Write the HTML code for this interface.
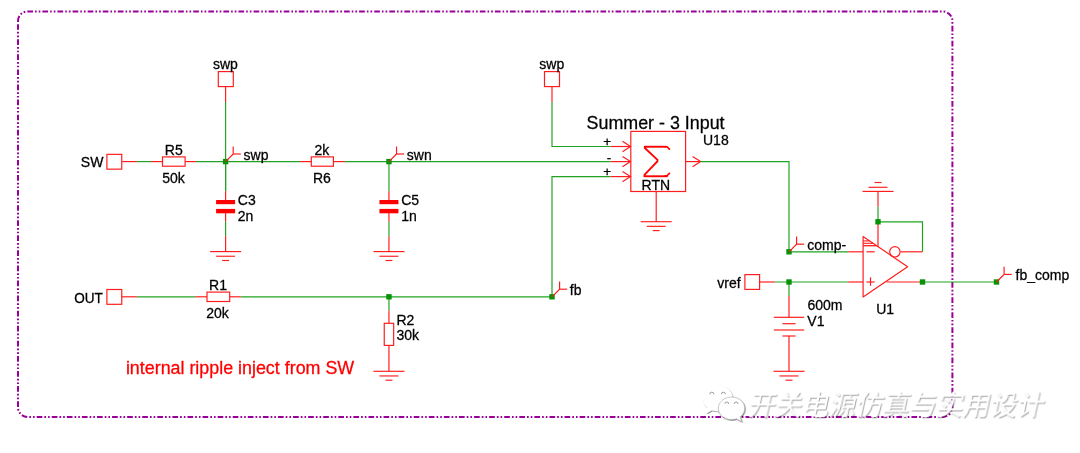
<!DOCTYPE html>
<html lang="zh">
<head>
<meta charset="utf-8">
<title>internal ripple inject from SW</title>
<style>
html,body{margin:0;padding:0;background:#fff;}
body{width:1080px;height:453px;overflow:hidden;position:relative;font-family:"Liberation Sans","Noto Sans CJK SC",sans-serif;}
svg{position:absolute;left:0;top:0;display:block;will-change:transform;}
svg text{font-family:"Liberation Sans","Noto Sans CJK SC",sans-serif;}
svg text.sig{font-family:"Liberation Sans","DejaVu Sans",sans-serif;}
.wm{position:absolute;left:745.1px;top:386.6px;font-size:26.85px;line-height:40px;height:40px;white-space:nowrap;color:#fff;
font-family:"Liberation Sans","Noto Sans CJK SC",sans-serif;font-weight:400;letter-spacing:0px;
transform:skewX(-12deg) scaleY(1.05);transform-origin:0 100%;
text-shadow:1px 1px 1px rgba(0,0,0,.38);}
</style>
</head>
<body>
<svg width="1080" height="453" viewBox="0 0 1080 453">
<path d="M18 21A9.5 9.5 0 0 1 27.5 11.5H942.9A9.5 9.5 0 0 1 952.4 21V407.4A9.5 9.5 0 0 1 942.9 416.9H27.5A9.5 9.5 0 0 1 18 407.4Z" fill="none" stroke="#990099" stroke-width="2" stroke-dasharray="5.7 2.0275 1.6 2.0275 1.7 2.0275" stroke-dashoffset="0.45"/>
<line x1="225.6" y1="102.0" x2="225.6" y2="191.3" stroke="#21a321" stroke-width="1.18"/>
<line x1="225.6" y1="86.6" x2="225.6" y2="102.0" stroke="#ff1c1c" stroke-width="1.18"/>
<rect x="218.3" y="71.6" width="15.0" height="15.0" fill="none" stroke="#ff1c1c" stroke-width="1.18"/>
<text x="225.4" y="69.4" font-size="14.0" fill="#000" stroke="#000" stroke-width="0.28" text-anchor="middle" >swp</text>
<text x="103.4" y="166.8" font-size="14.0" fill="#000" stroke="#000" stroke-width="0.28" text-anchor="end" >SW</text>
<rect x="106.9" y="154.35" width="14.85" height="14.8" fill="none" stroke="#ff1c1c" stroke-width="1.18"/>
<line x1="122.2" y1="161.6" x2="137.1" y2="161.6" stroke="#ff1c1c" stroke-width="1.18"/>
<line x1="137.1" y1="161.6" x2="151" y2="161.6" stroke="#21a321" stroke-width="1.18"/>
<line x1="151" y1="161.6" x2="162.5" y2="161.6" stroke="#ff1c1c" stroke-width="1.18"/>
<rect x="162.5" y="156.9" width="22.6" height="9.3" fill="none" stroke="#ff1c1c" stroke-width="1.18"/>
<line x1="185.1" y1="161.6" x2="196" y2="161.6" stroke="#ff1c1c" stroke-width="1.18"/>
<line x1="196" y1="161.6" x2="300" y2="161.6" stroke="#21a321" stroke-width="1.18"/>
<line x1="300" y1="161.6" x2="311.3" y2="161.6" stroke="#ff1c1c" stroke-width="1.18"/>
<rect x="311.3" y="156.9" width="22.1" height="9.3" fill="none" stroke="#ff1c1c" stroke-width="1.18"/>
<line x1="333.4" y1="161.6" x2="345" y2="161.6" stroke="#ff1c1c" stroke-width="1.18"/>
<line x1="345" y1="161.6" x2="610.7" y2="161.6" stroke="#21a321" stroke-width="1.18"/>
<text x="164.8" y="154.6" font-size="14.0" fill="#000" stroke="#000" stroke-width="0.28" text-anchor="start" >R5</text>
<text x="162.2" y="182.95" font-size="14.0" fill="#000" stroke="#000" stroke-width="0.28" text-anchor="start" >50k</text>
<text x="314.5" y="154.8" font-size="14.0" fill="#000" stroke="#000" stroke-width="0.28" text-anchor="start" >2k</text>
<text x="312.9" y="183.0" font-size="14.0" fill="#000" stroke="#000" stroke-width="0.28" text-anchor="start" >R6</text>
<line x1="225.6" y1="161.6" x2="225.6" y2="191.3" stroke="#21a321" stroke-width="1.18"/>
<line x1="225.6" y1="191.3" x2="225.6" y2="200" stroke="#ff1c1c" stroke-width="1.18"/>
<rect x="216.1" y="200.0" width="19" height="4.2" fill="#ff0000"/>
<rect x="216.1" y="208.9" width="19" height="4.4" fill="#ff0000"/>
<line x1="225.6" y1="213" x2="225.6" y2="221.7" stroke="#ff1c1c" stroke-width="1.18"/>
<line x1="225.6" y1="221.7" x2="225.6" y2="236.3" stroke="#21a321" stroke-width="1.18"/>
<line x1="225.6" y1="236.3" x2="225.6" y2="251.6" stroke="#ff1c1c" stroke-width="1.18"/>
<line x1="210.1" y1="251.6" x2="241.1" y2="251.6" stroke="#ff1c1c" stroke-width="1.15"/>
<line x1="216.1" y1="256.25" x2="235.1" y2="256.25" stroke="#ff1c1c" stroke-width="1.15"/>
<line x1="222.15" y1="260.5" x2="229.05" y2="260.5" stroke="#ff1c1c" stroke-width="1.15"/>
<text x="237.8" y="204.7" font-size="14.0" fill="#000" stroke="#000" stroke-width="0.28" text-anchor="start" >C3</text>
<text x="237.8" y="221.1" font-size="14.0" fill="#000" stroke="#000" stroke-width="0.28" text-anchor="start" >2n</text>
<line x1="388.95" y1="161.6" x2="388.95" y2="191.3" stroke="#21a321" stroke-width="1.18"/>
<line x1="388.95" y1="191.3" x2="388.95" y2="200" stroke="#ff1c1c" stroke-width="1.18"/>
<rect x="379.45" y="200.0" width="19" height="4.2" fill="#ff0000"/>
<rect x="379.45" y="208.9" width="19" height="4.4" fill="#ff0000"/>
<line x1="388.95" y1="213" x2="388.95" y2="221.7" stroke="#ff1c1c" stroke-width="1.18"/>
<line x1="388.95" y1="221.7" x2="388.95" y2="236.3" stroke="#21a321" stroke-width="1.18"/>
<line x1="388.95" y1="236.3" x2="388.95" y2="251.6" stroke="#ff1c1c" stroke-width="1.18"/>
<line x1="373.45" y1="251.6" x2="404.45" y2="251.6" stroke="#ff1c1c" stroke-width="1.15"/>
<line x1="379.45" y1="256.25" x2="398.45" y2="256.25" stroke="#ff1c1c" stroke-width="1.15"/>
<line x1="385.5" y1="260.5" x2="392.4" y2="260.5" stroke="#ff1c1c" stroke-width="1.15"/>
<text x="401.15" y="204.7" font-size="14.0" fill="#000" stroke="#000" stroke-width="0.28" text-anchor="start" >C5</text>
<text x="401.15" y="221.1" font-size="14.0" fill="#000" stroke="#000" stroke-width="0.28" text-anchor="start" >1n</text>
<text x="243.6" y="160.0" font-size="14.0" fill="#000" stroke="#000" stroke-width="0.28" text-anchor="start" >swp</text>
<text x="406.8" y="160.0" font-size="14.0" fill="#000" stroke="#000" stroke-width="0.28" text-anchor="start" >swn</text>
<rect x="544.5" y="71.6" width="15.0" height="15.0" fill="none" stroke="#ff1c1c" stroke-width="1.18"/>
<text x="551.8" y="69.4" font-size="14.0" fill="#000" stroke="#000" stroke-width="0.28" text-anchor="middle" >swp</text>
<line x1="552.0" y1="86.6" x2="552.0" y2="102.0" stroke="#ff1c1c" stroke-width="1.18"/>
<polyline points="552.0,102.0 552.0,146.5 610.7,146.5" fill="none" stroke="#21a321" stroke-width="1.18" />
<polyline points="610.7,176.6 552.0,176.6 552.0,296.8" fill="none" stroke="#21a321" stroke-width="1.18" />
<line x1="240.7" y1="296.8" x2="552.0" y2="296.8" stroke="#21a321" stroke-width="1.18"/>
<line x1="610.7" y1="146.5" x2="630.5" y2="146.5" stroke="#ff1c1c" stroke-width="1.18"/>
<polyline points="622.5,141.3 630.5,146.5 622.5,151.7" fill="none" stroke="#ff1c1c" stroke-width="1.18" />
<line x1="610.7" y1="161.6" x2="630.5" y2="161.6" stroke="#ff1c1c" stroke-width="1.18"/>
<polyline points="622.5,156.4 630.5,161.6 622.5,166.8" fill="none" stroke="#ff1c1c" stroke-width="1.18" />
<line x1="610.7" y1="176.6" x2="630.5" y2="176.6" stroke="#ff1c1c" stroke-width="1.18"/>
<polyline points="622.5,171.4 630.5,176.6 622.5,181.8" fill="none" stroke="#ff1c1c" stroke-width="1.18" />
<rect x="630.8" y="131.4" width="54.8" height="60.1" fill="none" stroke="#ff1c1c" stroke-width="1.18"/>
<line x1="685.6" y1="161.6" x2="700.6" y2="161.6" stroke="#ff1c1c" stroke-width="1.18"/>
<polyline points="692.6,156.4 700.6,161.6 692.6,166.8" fill="none" stroke="#ff1c1c" stroke-width="1.18" />
<line x1="656.2" y1="191.5" x2="656.2" y2="221.7" stroke="#ff1c1c" stroke-width="1.18"/>
<line x1="640.7" y1="221.7" x2="671.7" y2="221.7" stroke="#ff1c1c" stroke-width="1.15"/>
<line x1="646.7" y1="226.35" x2="665.7" y2="226.35" stroke="#ff1c1c" stroke-width="1.15"/>
<line x1="652.75" y1="230.6" x2="659.65" y2="230.6" stroke="#ff1c1c" stroke-width="1.15"/>
<text x="586.6" y="129.3" font-size="17.88" fill="#000" stroke="#000" stroke-width="0.28" text-anchor="start" >Summer - 3 Input</text>
<text x="703.0" y="145.1" font-size="14.0" fill="#000" stroke="#000" stroke-width="0.28" text-anchor="start" >U18</text>
<text x="655.85" y="190.3" font-size="14.0" fill="#000" stroke="#000" stroke-width="0.28" text-anchor="middle" >RTN</text>
<text x="607.25" y="145.8" font-size="13.5" fill="#000" stroke="#000" stroke-width="0.28" text-anchor="middle" >+</text>
<text x="609.0" y="162.0" font-size="13.5" fill="#000" stroke="#000" stroke-width="0.28" text-anchor="middle" >-</text>
<text x="607.25" y="175.9" font-size="13.5" fill="#000" stroke="#000" stroke-width="0.28" text-anchor="middle" >+</text>
<text class="sig" font-size="48.5" fill="#ff0000" stroke="#fff" stroke-width="1.7" text-anchor="middle" transform="translate(655.3 177.6) scale(1.02 1)">Σ</text>
<polyline points="664.5,146.75 667.0,146.75 669.9,149.7" fill="none" stroke="#ff0000" stroke-width="1.7" />
<polyline points="664.5,175.75 667.0,175.75 669.9,172.8" fill="none" stroke="#ff0000" stroke-width="1.7" />
<polyline points="700.6,161.6 789.0,161.6 789.0,251.8 848.2,251.8" fill="none" stroke="#21a321" stroke-width="1.18" />
<line x1="848.2" y1="251.8" x2="863" y2="251.8" stroke="#ff1c1c" stroke-width="1.18"/>
<text x="807.2" y="250.3" font-size="14.0" fill="#000" stroke="#000" stroke-width="0.28" text-anchor="start" >comp-</text>
<text x="102.8" y="302.8" font-size="14.0" fill="#000" stroke="#000" stroke-width="0.28" text-anchor="end" textLength="28.6" lengthAdjust="spacingAndGlyphs">OUT</text>
<rect x="106.9" y="289.5" width="14.85" height="14.8" fill="none" stroke="#ff1c1c" stroke-width="1.18"/>
<line x1="122.0" y1="296.8" x2="137.2" y2="296.8" stroke="#ff1c1c" stroke-width="1.18"/>
<line x1="137.2" y1="296.8" x2="195.2" y2="296.8" stroke="#21a321" stroke-width="1.18"/>
<line x1="195.2" y1="296.8" x2="207" y2="296.8" stroke="#ff1c1c" stroke-width="1.18"/>
<rect x="207" y="292.1" width="22.7" height="9.4" fill="none" stroke="#ff1c1c" stroke-width="1.18"/>
<line x1="229.7" y1="296.8" x2="240.7" y2="296.8" stroke="#ff1c1c" stroke-width="1.18"/>
<text x="209.1" y="289.9" font-size="14.0" fill="#000" stroke="#000" stroke-width="0.28" text-anchor="start" >R1</text>
<text x="206.3" y="318.0" font-size="14.0" fill="#000" stroke="#000" stroke-width="0.28" text-anchor="start" >20k</text>
<line x1="388.95" y1="296.8" x2="388.95" y2="310.8" stroke="#21a321" stroke-width="1.18"/>
<line x1="388.95" y1="310.8" x2="388.95" y2="323.3" stroke="#ff1c1c" stroke-width="1.18"/>
<rect x="384.25" y="323.3" width="9.4" height="22.1" fill="none" stroke="#ff1c1c" stroke-width="1.18"/>
<line x1="388.95" y1="345.4" x2="388.95" y2="371.3" stroke="#ff1c1c" stroke-width="1.18"/>
<line x1="373.45" y1="371.3" x2="404.45" y2="371.3" stroke="#ff1c1c" stroke-width="1.15"/>
<line x1="379.45" y1="375.95" x2="398.45" y2="375.95" stroke="#ff1c1c" stroke-width="1.15"/>
<line x1="385.5" y1="380.2" x2="392.4" y2="380.2" stroke="#ff1c1c" stroke-width="1.15"/>
<text x="396.4" y="325.0" font-size="14.0" fill="#000" stroke="#000" stroke-width="0.28" text-anchor="start" >R2</text>
<text x="396.4" y="340.4" font-size="14.0" fill="#000" stroke="#000" stroke-width="0.28" text-anchor="start" >30k</text>
<text x="569.8" y="295.4" font-size="14.0" fill="#000" stroke="#000" stroke-width="0.28" text-anchor="start" >fb</text>
<text x="125.9" y="373.7" font-size="17.88" fill="#ff0000" stroke="#ff0000" stroke-width="0.28" text-anchor="start" >internal ripple inject from SW</text>
<text x="717.3" y="287.6" font-size="14.0" fill="#000" stroke="#000" stroke-width="0.28" text-anchor="start" >vref</text>
<rect x="744.9" y="274.6" width="14.7" height="14.8" fill="none" stroke="#ff1c1c" stroke-width="1.18"/>
<line x1="759.8" y1="282.0" x2="774.7" y2="282.0" stroke="#ff1c1c" stroke-width="1.18"/>
<line x1="774.7" y1="282.0" x2="848.2" y2="282.0" stroke="#21a321" stroke-width="1.18"/>
<line x1="848.2" y1="282.0" x2="863" y2="282.0" stroke="#ff1c1c" stroke-width="1.18"/>
<line x1="789.0" y1="282.0" x2="789.0" y2="296" stroke="#21a321" stroke-width="1.18"/>
<line x1="789.0" y1="296" x2="789.0" y2="317.3" stroke="#ff1c1c" stroke-width="1.18"/>
<line x1="773.8" y1="317.3" x2="804.2" y2="317.3" stroke="#ff1c1c" stroke-width="1.18"/>
<line x1="782.4" y1="323.7" x2="795.6" y2="323.7" stroke="#ff1c1c" stroke-width="1.18"/>
<line x1="773.8" y1="330.0" x2="804.2" y2="330.0" stroke="#ff1c1c" stroke-width="1.18"/>
<line x1="782.4" y1="336.0" x2="795.6" y2="336.0" stroke="#ff1c1c" stroke-width="1.18"/>
<line x1="789.0" y1="336" x2="789.0" y2="371.3" stroke="#ff1c1c" stroke-width="1.18"/>
<line x1="773.5" y1="371.3" x2="804.5" y2="371.3" stroke="#ff1c1c" stroke-width="1.15"/>
<line x1="779.5" y1="375.95" x2="798.5" y2="375.95" stroke="#ff1c1c" stroke-width="1.15"/>
<line x1="785.55" y1="380.2" x2="792.45" y2="380.2" stroke="#ff1c1c" stroke-width="1.15"/>
<text x="807.5" y="309.9" font-size="14.0" fill="#000" stroke="#000" stroke-width="0.28" text-anchor="start" >600m</text>
<text x="807.3" y="325.7" font-size="14.0" fill="#000" stroke="#000" stroke-width="0.28" text-anchor="start" >V1</text>
<polygon points="863.1,236.5 863.1,297 907.6,266.75" fill="none" stroke="#ff1c1c" stroke-width="1.18" stroke-linejoin="round"/>
<line x1="863.1" y1="240.9" x2="869.6" y2="240.9" stroke="#ff1c1c" stroke-width="1.1"/>
<line x1="863.1" y1="243.3" x2="873.0" y2="243.3" stroke="#ff1c1c" stroke-width="1.1"/>
<line x1="863.1" y1="245.7" x2="876.6" y2="245.7" stroke="#ff1c1c" stroke-width="1.3"/>
<line x1="866.4" y1="251.8" x2="874.7" y2="251.8" stroke="#ff1c1c" stroke-width="1.18"/>
<line x1="866.4" y1="282.0" x2="874.7" y2="282.0" stroke="#ff1c1c" stroke-width="1.18"/>
<line x1="870.5" y1="277.3" x2="870.5" y2="285.8" stroke="#ff1c1c" stroke-width="1.18"/>
<line x1="878.0" y1="221.8" x2="878.0" y2="246.7" stroke="#ff1c1c" stroke-width="1.18"/>
<line x1="878.0" y1="206.8" x2="878.0" y2="221.8" stroke="#21a321" stroke-width="1.18"/>
<line x1="878.0" y1="191.4" x2="878.0" y2="206.8" stroke="#ff1c1c" stroke-width="1.18"/>
<line x1="862.5" y1="191.4" x2="893.5" y2="191.4" stroke="#ff1c1c" stroke-width="1.15"/>
<line x1="868.5" y1="187.3" x2="887.5" y2="187.3" stroke="#ff1c1c" stroke-width="1.15"/>
<line x1="874.55" y1="182.5" x2="881.45" y2="182.5" stroke="#ff1c1c" stroke-width="1.15"/>
<polyline points="878.0,221.8 922.5,221.8 922.5,251.8" fill="none" stroke="#21a321" stroke-width="1.18" />
<line x1="900.6" y1="251.8" x2="922.5" y2="251.8" stroke="#ff1c1c" stroke-width="1.18"/>
<circle cx="894.9" cy="251.8" r="5.2" fill="none" stroke="#ff1c1c" stroke-width="1.18"/>
<line x1="886.4" y1="282.0" x2="922.5" y2="282.0" stroke="#ff1c1c" stroke-width="1.18"/>
<line x1="922.5" y1="282.0" x2="996.5" y2="282.0" stroke="#21a321" stroke-width="1.18"/>
<text x="1015.6" y="279.8" font-size="14.0" fill="#000" stroke="#000" stroke-width="0.28" text-anchor="start" >fb_comp</text>
<text x="876.2" y="314.2" font-size="14.0" fill="#000" stroke="#000" stroke-width="0.28" text-anchor="start" >U1</text>
<rect x="222.9" y="158.9" width="5.4" height="5.4" fill="#069406"/>
<rect x="386.25" y="158.9" width="5.4" height="5.4" fill="#069406"/>
<rect x="386.25" y="294.1" width="5.4" height="5.4" fill="#069406"/>
<rect x="549.3" y="294.1" width="5.4" height="5.4" fill="#069406"/>
<rect x="786.3" y="249.1" width="5.4" height="5.4" fill="#069406"/>
<rect x="786.3" y="279.3" width="5.4" height="5.4" fill="#069406"/>
<rect x="875.3" y="219.1" width="5.4" height="5.4" fill="#069406"/>
<rect x="919.8" y="279.3" width="5.4" height="5.4" fill="#069406"/>
<rect x="993.8" y="279.3" width="5.4" height="5.4" fill="#069406"/>
<polyline points="225.6,161.6 233.2,154.0 233.2,146.4" fill="none" stroke="#ff1c1c" stroke-width="1.18" />
<line x1="233.2" y1="154.0" x2="240.8" y2="154.0" stroke="#ff1c1c" stroke-width="1.18"/>
<polyline points="388.95,161.6 396.55,154.0 396.55,146.4" fill="none" stroke="#ff1c1c" stroke-width="1.18" />
<line x1="396.55" y1="154.0" x2="404.15" y2="154.0" stroke="#ff1c1c" stroke-width="1.18"/>
<polyline points="789.0,251.8 796.6,244.2 796.6,236.6" fill="none" stroke="#ff1c1c" stroke-width="1.18" />
<line x1="796.6" y1="244.2" x2="804.2" y2="244.2" stroke="#ff1c1c" stroke-width="1.18"/>
<polyline points="552.0,296.8 559.6,289.2 559.6,281.6" fill="none" stroke="#ff1c1c" stroke-width="1.18" />
<line x1="559.6" y1="289.2" x2="567.2" y2="289.2" stroke="#ff1c1c" stroke-width="1.18"/>
<polyline points="996.5,282.0 1004.1,274.4 1004.1,266.8" fill="none" stroke="#ff1c1c" stroke-width="1.18" />
<line x1="1004.1" y1="274.4" x2="1011.7" y2="274.4" stroke="#ff1c1c" stroke-width="1.18"/>
<defs><filter id="ds" x="-20%" y="-20%" width="150%" height="150%"><feDropShadow dx="0.7" dy="0.8" stdDeviation="0.45" flood-color="#000" flood-opacity="0.6"/></filter></defs>
<g filter="url(#ds)" fill="#fff">
<path d="M707.4 407.6L706.4 413.6L712 410.2A15 12.9 0 1 0 707.4 407.6Z"/>
</g>
<g filter="url(#ds)" fill="#fff">
<path d="M736.4 418.8L741.6 421.6L740.2 416.8A13.2 11.3 0 1 0 736.4 418.8Z" stroke="#9b9b9b" stroke-width="0.5"/>
</g>
<g fill="none" stroke="#8f8f8f" stroke-width="0.9">
<path d="M709.8 394.2A2 2 0 0 1 713.8 394.2"/><path d="M721.4 394.2A2 2 0 0 1 725.4 394.2"/>
<path d="M724.9 403.9A1.9 1.9 0 0 1 728.7 403.9"/><path d="M734.2 403.9A1.9 1.9 0 0 1 738 403.9"/>
</g>
</svg>
<div class="wm">开关电源仿真与实用设计</div>
</body>
</html>
